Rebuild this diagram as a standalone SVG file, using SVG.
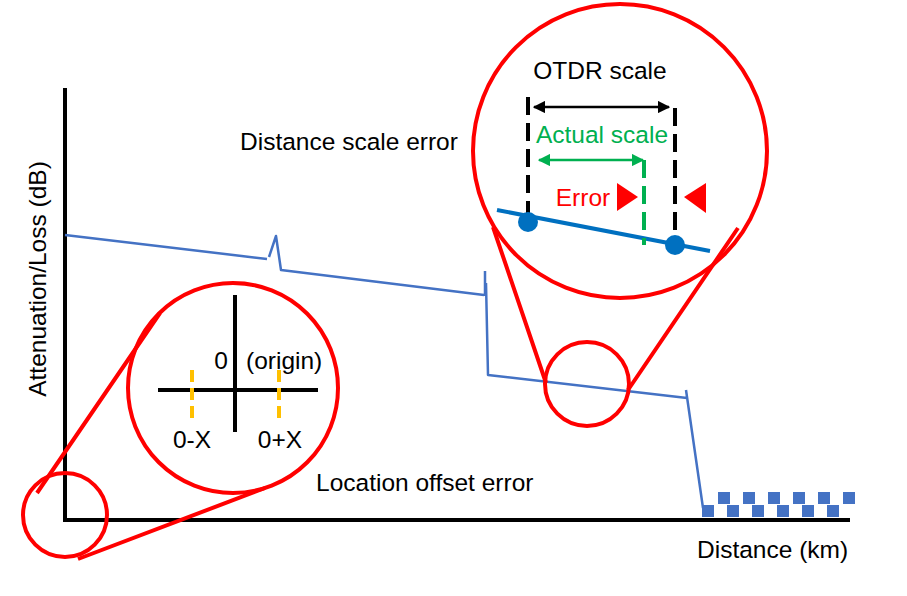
<svg xmlns="http://www.w3.org/2000/svg" width="907" height="596" viewBox="0 0 907 596">
<style>
text{font-family:"Liberation Sans",Arial,sans-serif;font-size:24.5px}
.red{fill:none;stroke:#ff0000;stroke-width:4}
.trace{fill:none;stroke:#4472c4;stroke-width:2.5;stroke-linejoin:round}
.ax{stroke:#000;stroke-width:4;fill:none}
.sq{fill:#4472c4}
</style>
<defs>
<marker id="ab" viewBox="0 0 10 10" refX="9" refY="5" markerWidth="5" markerHeight="5" orient="auto-start-reverse"><path d="M0,0L10,5L0,10z" fill="#000"/></marker>
<marker id="ag" viewBox="0 0 10 10" refX="9" refY="5" markerWidth="5" markerHeight="5" orient="auto-start-reverse"><path d="M0,0L10,5L0,10z" fill="#00b050"/></marker>
</defs>
<g id="axes">
<path class="ax" d="M65,88V520H850"/>
<text x="46" y="279" text-anchor="middle" transform="rotate(-90 46 279)">Attenuation/Loss (dB)</text>
<text x="697" y="558">Distance (km)</text>
</g>
<g id="trace">
<path class="trace" d="M65,235L267,259M269,257L276,236L281,270L484,295M485,271V296M486,283L488,375L687,398M686,390L703,508"/>
<g class="sq">
<rect x="702" y="505" width="12" height="12"/><rect x="727" y="505" width="12" height="12"/><rect x="752" y="505" width="12" height="12"/><rect x="777" y="505" width="12" height="12"/><rect x="802" y="505" width="12" height="12"/><rect x="827" y="505" width="12" height="12"/>
<rect x="718" y="492" width="12" height="12"/><rect x="743" y="492" width="12" height="12"/><rect x="768" y="492" width="12" height="12"/><rect x="793" y="492" width="12" height="12"/><rect x="818" y="492" width="12" height="12"/><rect x="843" y="492" width="12" height="12"/>
</g>
</g>
<g id="zoom-origin">
<circle class="red" cx="65" cy="515" r="42"/>
<circle class="red" cx="233" cy="388" r="105"/>
<path class="red" d="M37,493L160,313M78,559L265,488"/>
<path class="ax" d="M235,295V432M158,390H318"/>
<path d="M192,370V418M279,370V418" stroke="#ffc000" stroke-width="4" stroke-dasharray="12,6"/>
<text x="228" y="369" text-anchor="end">0</text>
<text x="246" y="369">(origin)</text>
<text x="192" y="448" text-anchor="middle">0-X</text>
<text x="280" y="448" text-anchor="middle">0+X</text>
<text x="316" y="491">Location offset error</text>
</g>
<g id="zoom-scale">
<circle class="red" cx="587" cy="384" r="42"/>
<circle class="red" cx="620" cy="151" r="147"/>
<path class="red" d="M493,227L546,383M738,228L628,390"/>
<path d="M497,210L710,251" stroke="#0070c0" stroke-width="4"/>
<path d="M528,97V215M675,108V235" stroke="#000" stroke-width="4" stroke-dasharray="18,8"/>
<path d="M644,160V245" stroke="#00b050" stroke-width="4" stroke-dasharray="18,8"/>
<circle cx="528" cy="222" r="10" fill="#0070c0"/>
<circle cx="675" cy="245" r="10" fill="#0070c0"/>
<path d="M534,107H669" stroke="#000" stroke-width="2.5" marker-start="url(#ab)" marker-end="url(#ab)"/>
<path d="M539,160H643" stroke="#00b050" stroke-width="2.5" marker-start="url(#ag)" marker-end="url(#ag)"/>
<path d="M617,183L638,197L617,211z" fill="#ff0000"/>
<path d="M706,183L684,197L706,213z" fill="#ff0000"/>
<text x="600" y="79" text-anchor="middle">OTDR scale</text>
<text x="602" y="143" text-anchor="middle" fill="#00b050">Actual scale</text>
<text x="583" y="206" text-anchor="middle" fill="#ff0000">Error</text>
<text x="240" y="150">Distance scale error</text>
</g>
</svg>
